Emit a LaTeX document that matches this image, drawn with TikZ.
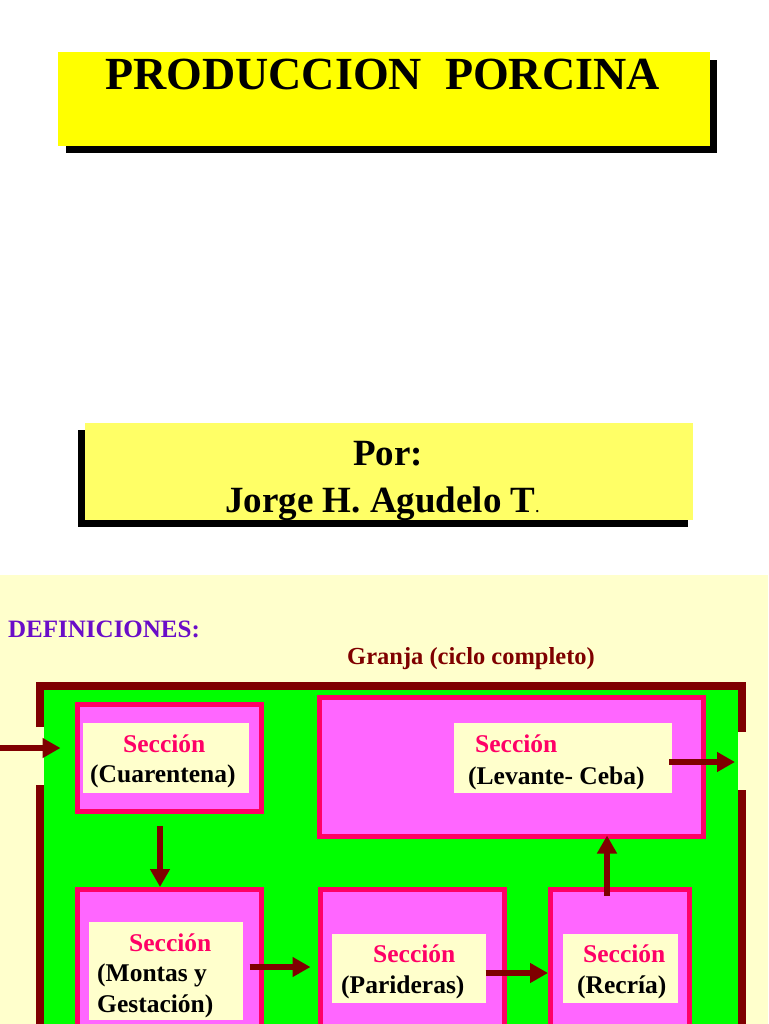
\documentclass[tikz,border=0pt]{standalone}
\usepackage{fontspec}
\setmainfont{Liberation Serif}
\usetikzlibrary{arrows.meta,calc}
\definecolor{cMaroon}{HTML}{7F0000}
\definecolor{cPale}{HTML}{FFFFCC}
\definecolor{cYellow}{HTML}{FFFF00}
\definecolor{cYellowB}{HTML}{FFFF66}
\definecolor{cGreen}{HTML}{00FF00}
\definecolor{cPink}{HTML}{FF66FF}
\definecolor{cRose}{HTML}{FF0066}
\definecolor{cPurple}{HTML}{6A0DC8}
\begin{document}
\begin{tikzpicture}[x=1pt,y=-1pt,
  secbox/.style={draw=cRose, line width=5pt, fill=cPink, inner sep=0pt},
  innerbox/.style={fill=cPale, inner sep=0pt},
  sectxt/.style={text=cRose, font=\fontsize{25.5}{30}\selectfont\bfseries, inner sep=0pt, anchor=base west},
  labtxt/.style={text=black, font=\fontsize{25.5}{30}\selectfont\bfseries, inner sep=0pt, anchor=base west},
  arr/.style={draw=cMaroon, line width=6pt, -{Triangle[width=19pt,length=18pt]}},
  wall/.style={draw=cMaroon, line width=8pt, miter limit=10}
]
\useasboundingbox (0,0) rectangle (768,1024);
\clip (0,0) rectangle (768,1024);
% backgrounds
\fill[white] (0,0) rectangle (768,575);
\fill[cPale] (0,575) rectangle (768,1024);

% title
\fill[black] (66,60) rectangle (717,153);
\node[fill=cYellow, inner sep=0pt, minimum width=652pt, minimum height=94pt] (titlebox) at (384,99) {};
\node[inner sep=0pt, anchor=base, font=\fontsize{46}{50}\selectfont\bfseries] (title) at (382.5,90) {PRODUCCION\ \ PORCINA};

% author
\fill[black] (78,430) rectangle (688,527);
\node[fill=cYellowB, inner sep=0pt, minimum width=608pt, minimum height=97pt] (authbox) at (389,471.5) {};
\node[inner sep=0pt, anchor=base, font=\fontsize{37}{42}\selectfont\bfseries] (por) at (388,465) {Por:};
\node[inner sep=0pt, anchor=base west, font=\fontsize{37}{42}\selectfont\bfseries] (author) at (225,512) {Jorge H. Agudelo T{\fontsize{14}{16}\selectfont .}};

% definitions
\node[inner sep=0pt, anchor=base west, text=cPurple, font=\fontsize{25}{30}\selectfont\bfseries] (defs) at (8,637) {DEFINICIONES:};
\node[inner sep=0pt, anchor=base west, text=cMaroon, font=\fontsize{24.5}{30}\selectfont\bfseries] (granjatxt) at (347,664) {Granja (ciclo completo)};

% granja
\node[fill=cGreen, inner sep=0pt, minimum width=694pt, minimum height=420pt] (granja) at (391,900) {};
\draw[wall] (40,727) -- (40,686) -- (742,686) -- (742,732);
\draw[wall] (742,790) -- (742,1100);
\draw[wall] (40,785) -- (40,1100);

% sections
\node[secbox, minimum width=184pt, minimum height=107pt] (cuar) at (169.5,758) {};
\node[innerbox, minimum width=166pt, minimum height=70pt] (cuarin) at (166,758) {};
\node[secbox, minimum width=384pt, minimum height=139pt] (lev) at (511.5,767) {};
\node[innerbox, minimum width=218pt, minimum height=70pt] (levin) at (563,758) {};
\node[secbox, minimum width=184pt, minimum height=171pt] (mont) at (169.5,975) {};
\node[innerbox, minimum width=154pt, minimum height=98pt] (montin) at (166,971) {};
\node[secbox, minimum width=184pt, minimum height=171pt] (par) at (412.5,975) {};
\node[innerbox, minimum width=154pt, minimum height=69pt] (parin) at (409,968.5) {};
\node[secbox, minimum width=139pt, minimum height=171pt] (rec) at (620,975) {};
\node[innerbox, minimum width=115pt, minimum height=69pt] (recin) at (620.5,968.5) {};

% texts
\node[sectxt] (cuars) at (123,752) {Sección};
\node[labtxt] (cuarl) at (90,782) {(Cuarentena)};
\node[sectxt] (levs) at (475,752) {Sección};
\node[labtxt] (levl) at (468,784) {(Levante- Ceba)};
\node[sectxt] (monts) at (129,951) {Sección};
\node[labtxt] (montl1) at (97,981) {(Montas y};
\node[labtxt] (montl2) at (97,1012) {Gestación)};
\node[sectxt] (pars) at (373,962) {Sección};
\node[labtxt] (parl) at (341,993) {(Parideras)};
\node[sectxt] (recs) at (583,962) {Sección};
\node[labtxt] (recl) at (577,993) {(Recría)};

% arrows
\coordinate (entry) at (0,748);
\draw[arr, shorten >=14.5pt] (entry) -- (entry -| cuar.west);
\coordinate (exit) at (735,762);
\draw[arr, shorten <=-3pt] (exit -| levin.east) -- (exit);
\coordinate (cd) at ([xshift=-9.5pt,yshift=-11.5pt]cuar.south);
\draw[arr] (cd) -- (cd |- mont.north);
\coordinate (mp) at ([xshift=-14.5pt,yshift=8pt]mont.east);
\draw[arr, shorten >=7.5pt] (mp) -- (mp -| par.west);
\coordinate (pr) at ([xshift=-21.5pt,yshift=2pt]par.east);
\draw[arr] (pr) -- (pr -| rec.west);
\coordinate (ru) at ([xshift=-13pt,yshift=-8.5pt]rec.north);
\draw[arr, shorten >=-3.5pt] (ru) -- (ru |- lev.south);
\end{tikzpicture}
\end{document}
